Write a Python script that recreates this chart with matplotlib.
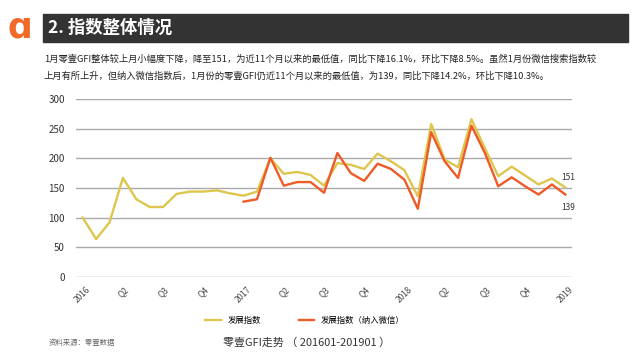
import matplotlib.pyplot as plt
from matplotlib.patches import Rectangle

plt.rcParams['font.family'] = ['Noto Sans CJK SC', 'DejaVu Sans']

# monthly index, 2016-01 .. 2019-01
gfi = [100, 64, 92, 167, 131, 118, 118, 140, 144, 144, 146, 141,
       137, 144, 200, 174, 177, 172, 154, 192, 189, 182, 208, 195,
       180, 136, 258, 198, 185, 266, 217, 170, 186, 171, 156, 166,
       151]
# including wechat, starts 2017-01
gfi_wx = [127, 131, 201, 154, 160, 160, 142, 209, 175, 162, 191, 182,
          164, 115, 244, 195, 167, 255, 209, 153, 168, 153, 139, 156,
          139]
wx_start = 12

tick_labels = ['2016', 'Q2', 'Q3', 'Q4', '2017', 'Q2', 'Q3', 'Q4',
               '2018', 'Q2', 'Q3', 'Q4', '2019']

yellow = '#DEC64E'
orange = '#EE5B26'

fig = plt.figure(figsize=(6.4, 3.6), dpi=100)

# header
fig.patches.append(Rectangle((43 / 640, 1 - 42 / 360), 585 / 640, 28 / 360,
                             transform=fig.transFigure, color='#333333', zorder=0))
fig.text(20 / 640, 1 - 28 / 360, 'ɑ', color='#F06A2A', fontsize=25, fontweight='bold',
         ha='center', va='center', family='DejaVu Sans')
fig.text(48 / 640, 1 - 28 / 360, '2. 指数整体情况', color='white', fontsize=12.5,
         fontweight='bold', va='center')

para1 = ('1月零壹GFI整体较上月小幅度下降，降至151，为近11个月以来的最低值，'
         '同比下降16.1%，环比下降8.5%。虽然1月份微信搜索指数较')
para2 = ('上月有所上升，但纳入微信指数后，1月份的零壹GFI仍近11个月以来的最低值，'
         '为139，同比下降14.2%，环比下降10.3%。')
fig.text(44 / 640, 1 - 59 / 360, para1, fontsize=6.7, va='center', color='#222222')
fig.text(44 / 640, 1 - 76 / 360, para2, fontsize=6.7, va='center', color='#222222')

ax = fig.add_axes([76 / 640, 1 - 277 / 360, 496 / 640, 178 / 360])
x = list(range(len(gfi)))
x_wx = list(range(wx_start, wx_start + len(gfi_wx)))
ax.plot(x, gfi, color=yellow, lw=1.7, label='发展指数')
ax.plot(x_wx, gfi_wx, color=orange, lw=1.7, label='发展指数（纳入微信）')

ax.annotate('151', (x[-1], gfi[-1]), xytext=(-3, 5), textcoords='offset points',
            fontsize=6, color='#333333')
ax.annotate('139', (x_wx[-1], gfi_wx[-1]), xytext=(-3, -11), textcoords='offset points',
            fontsize=6, color='#333333')

ax.set_xlim(-0.5, 36.5)
ax.set_ylim(0, 300)
ax.set_yticks(range(0, 301, 50))
ax.set_xticks(range(0, 37, 3))
ax.set_xticklabels(tick_labels, rotation=45, fontsize=6, color='#444444')
ax.tick_params(axis='y', labelsize=7, colors='#333333', length=0, pad=8)
ax.tick_params(axis='x', length=0, pad=6)
ax.grid(axis='y', color='#AAAAAA', lw=1)
ax.set_axisbelow(True)
for s in ax.spines.values():
    s.set_visible(False)

fig.legend(loc='center', bbox_to_anchor=(305 / 640, 1 - 320 / 360), ncol=2,
           frameon=False, fontsize=6, handlelength=1.9, columnspacing=4.5)

fig.text(49 / 640, 1 - 343 / 360, '资料来源：零壹数据', fontsize=5.3, color='#666666',
         va='center')
fig.text(307 / 640, 1 - 343 / 360, '零壹GFI走势 （ 201601-201901 ）', fontsize=7.9,
         color='#333333', va='center', ha='center')

fig.savefig('out.png', dpi=100)
